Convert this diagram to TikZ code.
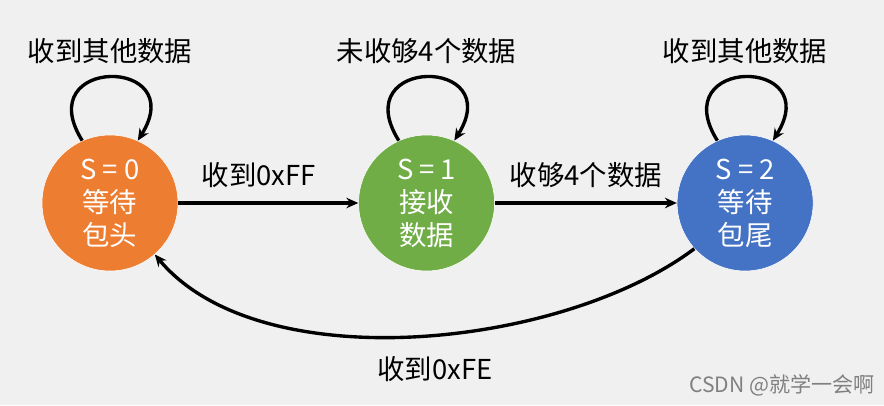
\documentclass[tikz,border=0pt]{standalone}
\usepackage{fontspec}
\setmainfont{Noto Sans CJK SC}
\usetikzlibrary{positioning,arrows.meta}
\definecolor{bgcol}{HTML}{F0F0F0}
\definecolor{sorange}{HTML}{ED7D31}
\definecolor{sgreen}{HTML}{70AD47}
\definecolor{sblue}{HTML}{4472C4}
\begin{document}
\begin{tikzpicture}[
    state/.style={circle, draw=white, line width=0.4pt, minimum size=3.4cm, inner sep=0pt, align=center, text=white, font=\fontsize{19.5}{23.5}\selectfont},
    arrow/.style={line width=2.4pt, -{Stealth[length=8.5pt, width=7.5pt]}},
    lbl/.style={font=\fontsize{19.5}{23.5}\selectfont, text=black},
    selfloop/.style={arrow, out=122, in=58, looseness=4.6}
]
    % Canvas
    \useasboundingbox[fill=bgcol] (0,0) rectangle (22.1,10.125);

    % States
    \node (s0) [state, fill=sorange] at (2.75,5.05) {S = 0\\等待\\包头};
    \node (s1) [state, fill=sgreen, right=4.5cm of s0] {S = 1\\接收\\数据};
    \node (s2) [state, fill=sblue, right=4.55cm of s1] {S = 2\\等待\\包尾};

    % Self loops
    \draw [selfloop] (s0.114) to node (l0) [lbl, above=5pt] {收到其他数据} (s0.66);
    \draw [selfloop] (s1.114) to node (l1) [lbl, above=5pt] {未收够4个数据} (s1.66);
    \draw [selfloop] (s2.114) to node (l2) [lbl, above=5pt] {收到其他数据} (s2.66);

    % Transitions
    \draw [arrow] (s0) -- node (t01) [lbl, above=6.5pt, xshift=-0.24cm] {收到0xFF} (s1);
    \draw [arrow] (s1) -- node (t12) [lbl, above=6.5pt] {收够4个数据} (s2);
    \draw [arrow] (s2.222) to[out=-143, in=-50, looseness=0.78]
        node (t20) [lbl, below=10pt, xshift=0.5cm] {收到0xFE} (s0.311);

    % Watermark
    \node (wm) [font=\fontsize{15}{18}\selectfont, text=gray] at (19.55,0.5) {CSDN @就学一会啊};
\end{tikzpicture}
\end{document}
